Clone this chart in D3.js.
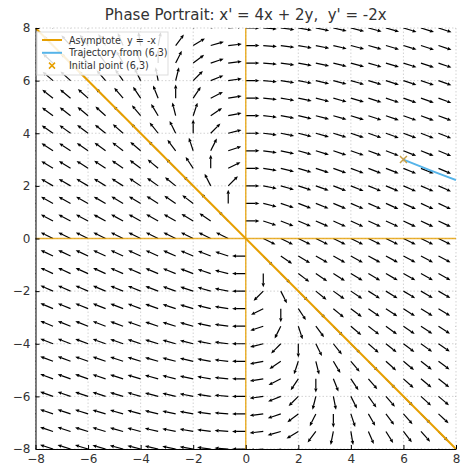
<!DOCTYPE html>
<html>
<head>
<meta charset="utf-8">
<script src="https://cdn.jsdelivr.net/npm/d3@7"></script>
<style>
  body { margin: 0; background: #fff; }
  svg { font-family: "DejaVu Sans", sans-serif; }
  text { white-space: pre; }
</style>
</head>
<body>
<svg width="474" height="474"></svg>
<script>
// system x' = a*x + b*y, y' = c*x + d*y
const coefX = [4, 2]
const coefY = [-2, 0]

// quiver grid (25 points from -8 to 8)
const gridVals = [-8, -22/3, -20/3, -6, -16/3, -14/3, -4, -10/3, -8/3, -2, -4/3, -2/3, 0,
    2/3, 4/3, 2, 8/3, 10/3, 4, 14/3, 16/3, 6, 20/3, 22/3, 8]

const ticks = [-8, -6, -4, -2, 0, 2, 4, 6, 8]

const asymX = [-8, 8]
const asymY = [8, -8]

const trajX = [6, 6.5, 7, 7.5, 8]
const trajY = [3, 2.8, 2.6, 2.41, 2.22]

const initPoint = [6, 3]

const orange = "#E69F00"
const blue = "#56B4E9"

const svg = d3.select("svg")
const pLeft = 35.5, pRight = 456, pTop = 28, pBottom = 449
const x = d3.scaleLinear([-8, 8], [pLeft, pRight])
const y = d3.scaleLinear([-8, 8], [pBottom, pTop])

svg.append("defs").append("clipPath").attr("id", "clip")
    .append("rect")
    .attr("x", pLeft).attr("y", pTop)
    .attr("width", pRight - pLeft).attr("height", pBottom - pTop)

// grid
const grid = svg.append("g").attr("stroke", "#c8c8c8").attr("stroke-width", 0.8)
    .attr("stroke-dasharray", "1.5,2")
grid.selectAll(".gx").data(ticks).join("line")
    .attr("x1", d => x(d)).attr("x2", d => x(d))
    .attr("y1", pTop).attr("y2", pBottom)
grid.selectAll(".gy").data(ticks).join("line")
    .attr("y1", d => y(d)).attr("y2", d => y(d))
    .attr("x1", pLeft).attr("x2", pRight)

// quiver
const arrows = []
for (const gx of gridVals) {
    for (const gy of gridVals) {
        const u = coefX[0] * gx + coefX[1] * gy
        const v = coefY[0] * gx + coefY[1] * gy
        const m = Math.hypot(u, v)
        if (m === 0) continue
        arrows.push({x0: gx, y0: gy, ux: u / m, uy: v / m})
    }
}
const L = 0.52
const headLen = 4, headW = 1.7
const qg = svg.append("g").attr("clip-path", "url(#clip)")
arrows.forEach(a => {
    const px0 = x(a.x0), py0 = y(a.y0)
    const px1 = x(a.x0 + a.ux * L), py1 = y(a.y0 + a.uy * L)
    const dx = px1 - px0, dy = py1 - py0
    const len = Math.hypot(dx, dy)
    const ex = dx / len, ey = dy / len
    const bx = px1 - ex * headLen, by = py1 - ey * headLen
    qg.append("line")
        .attr("x1", px0).attr("y1", py0).attr("x2", bx).attr("y2", by)
        .attr("stroke", "#000").attr("stroke-width", 1.2)
    qg.append("path")
        .attr("d", `M${px1},${py1}L${bx - ey * headW},${by + ex * headW}L${bx + ey * headW},${by - ex * headW}Z`)
        .attr("fill", "#000")
})

// lines
const lg = svg.append("g").attr("clip-path", "url(#clip)")
const line = d3.line().x(d => x(d[0])).y(d => y(d[1]))
lg.append("line").attr("x1", x(0)).attr("x2", x(0)).attr("y1", pTop).attr("y2", pBottom)
    .attr("stroke", orange).attr("stroke-width", 1.5).attr("opacity", 0.8)
lg.append("line").attr("y1", y(0)).attr("y2", y(0)).attr("x1", pLeft).attr("x2", pRight)
    .attr("stroke", orange).attr("stroke-width", 1.5).attr("opacity", 0.8)
lg.append("path").datum(d3.zip(asymX, asymY)).attr("d", line)
    .attr("fill", "none").attr("stroke", orange).attr("stroke-width", 2)
lg.append("path").datum(d3.zip(trajX, trajY)).attr("d", line)
    .attr("fill", "none").attr("stroke", blue).attr("stroke-width", 2)
const mk = 3.5
lg.append("path")
    .attr("d", `M${x(initPoint[0]) - mk},${y(initPoint[1]) - mk}l${2 * mk},${2 * mk}M${x(initPoint[0]) - mk},${y(initPoint[1]) + mk}l${2 * mk},${-2 * mk}`)
    .attr("stroke", "#C9A046").attr("stroke-width", 1.5)

// axes
const fmt = d => d < 0 ? "\u2212" + Math.abs(d) : d
const xAxis = svg.append("g").attr("transform", `translate(0,${pBottom})`)
    .call(d3.axisBottom(x).tickValues(ticks).tickSizeInner(-4).tickSizeOuter(0).tickPadding(5).tickFormat(fmt))
const yAxis = svg.append("g").attr("transform", `translate(${pLeft},0)`)
    .call(d3.axisLeft(y).tickValues(ticks).tickSizeInner(-4).tickSizeOuter(0).tickPadding(5).tickFormat(fmt))
;[xAxis, yAxis].forEach(ax => {
    ax.select(".domain").attr("stroke", "#000").attr("stroke-width", 1)
    ax.selectAll("text").attr("font-size", 12).attr("fill", "#333")
        .attr("font-family", "DejaVu Sans, sans-serif")
})

// title
svg.append("text").attr("x", (pLeft + pRight) / 2).attr("y", 20)
    .attr("text-anchor", "middle").attr("font-size", 15).attr("fill", "#333")
    .text("Phase Portrait: x' = 4x + 2y,  y' = -2x")

// legend
const leg = svg.append("g")
leg.append("rect").attr("x", 37).attr("y", 32).attr("width", 131).attr("height", 43)
    .attr("fill", "#fff").attr("fill-opacity", 0.85).attr("stroke", "#ddd")
const items = [
    {label: "Asymptote  y = -x", type: "line", color: orange},
    {label: "Trajectory from (6,3)", type: "line", color: blue},
    {label: "Initial point (6,3)", type: "x", color: orange}
]
items.forEach((it, i) => {
    const cy = 40 + i * 12.8
    if (it.type === "line") {
        leg.append("line").attr("x1", 42).attr("x2", 62).attr("y1", cy).attr("y2", cy)
            .attr("stroke", it.color).attr("stroke-width", 2)
    } else {
        leg.append("path").attr("d", `M${49},${cy - 3}l6,6M${49},${cy + 3}l6,-6`)
            .attr("stroke", it.color).attr("stroke-width", 1.5)
    }
    leg.append("text").attr("x", 69).attr("y", cy + 3.5).attr("font-size", 9.6)
        .attr("fill", "#333").text(it.label)
})
</script>
</body>
</html>
